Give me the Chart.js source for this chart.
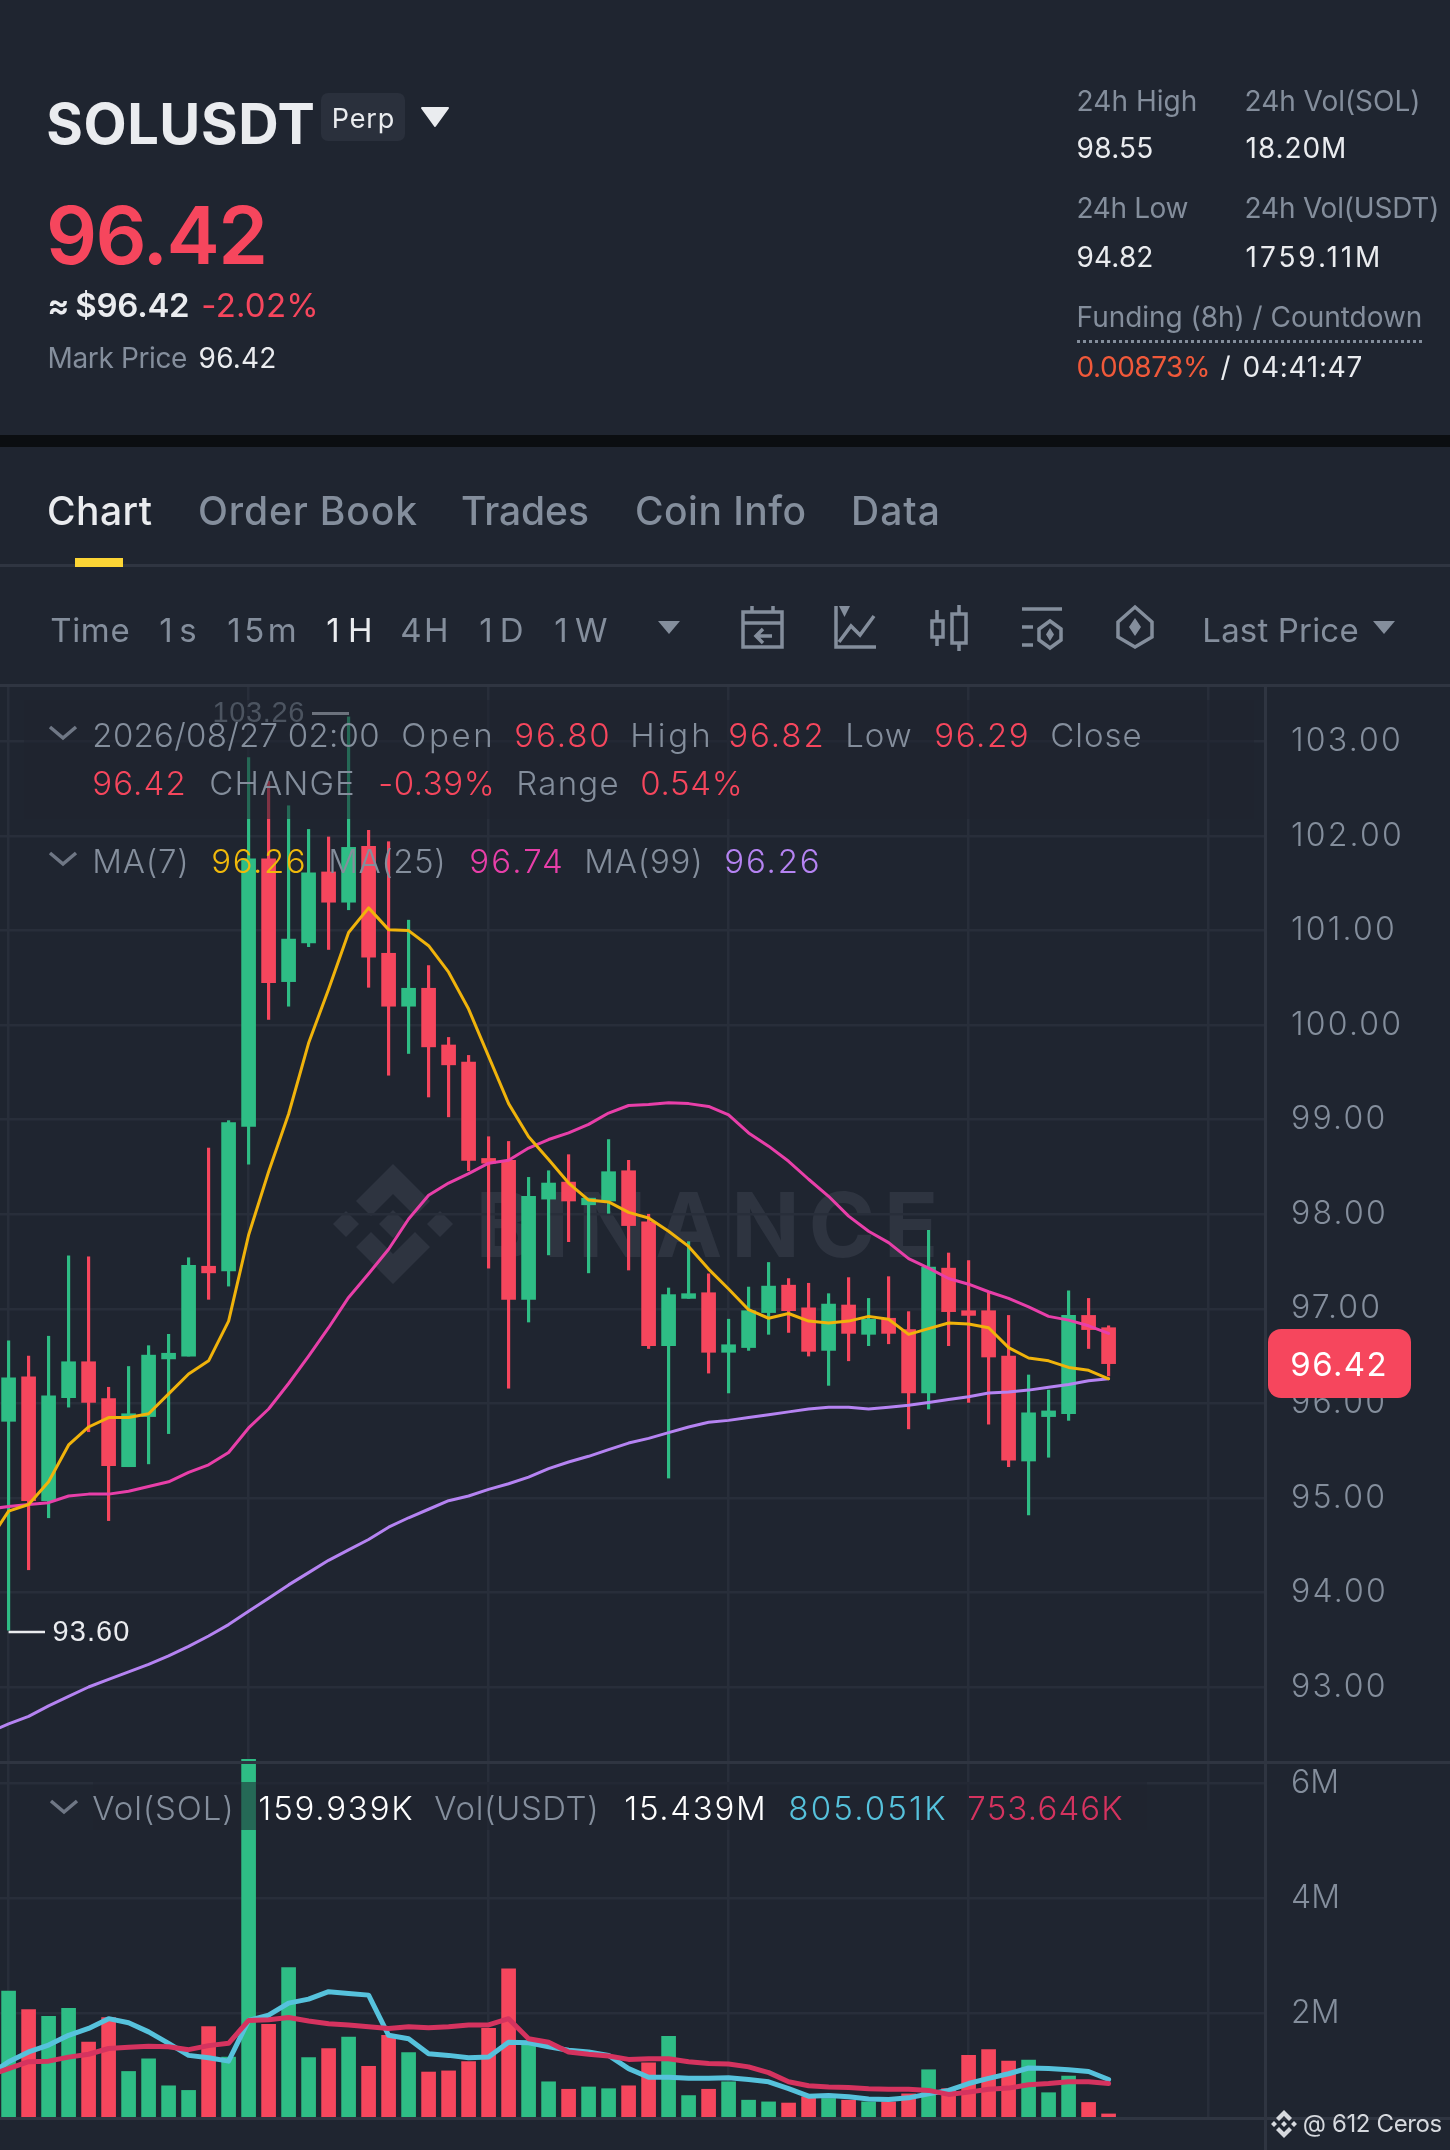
<!DOCTYPE html>
<html><head><meta charset="utf-8">
<style>
html,body{margin:0;padding:0;background:#1f2530;}
#page{position:relative;width:1450px;height:2150px;overflow:hidden;background:#1f2530;font-family:Inter,"Open Sans",sans-serif;}
.abs{position:absolute;}
.t{position:absolute;white-space:pre;line-height:normal;}
canvas{position:absolute;left:0;}
</style>
<script src="https://cdn.jsdelivr.net/npm/chart.js@4"></script>
</head><body>
<div id="page">
  <div class="abs" style="left:0;top:435px;width:1450px;height:12px;background:#0b0e11"></div>
  <div class="abs" style="left:0;top:564px;width:1450px;height:3px;background:#2f3541"></div>
  <div class="abs" style="left:75px;top:558px;width:48px;height:9px;background:#fcd535"></div>
  <div class="abs" style="left:0;top:684px;width:1450px;height:3px;background:#2f3541"></div>
  <div class="abs" style="left:321px;top:93px;width:84px;height:48px;border-radius:7px;background:#2a303c"></div>
  <div class="abs" style="left:1077px;top:340px;width:345px;border-top:3px dotted #848e9c"></div>

  <!-- watermark, under the marks -->
  <svg class="abs" style="left:330px;top:1160px" width="130" height="128" viewBox="0 0 130 128" fill="#2e3440">
    <path d="M63 4 L100 41 L85 56 L63 34 L41 56 L26 41Z"/>
    <path d="M63 124 L26 87 L41 72 L63 94 L85 72 L100 87Z"/>
    <path d="M16 51 L29 64 L16 77 L3 64Z"/>
    <path d="M110 51 L123 64 L110 77 L97 64Z"/>
    <path d="M63 50 L77 64 L63 78 L49 64Z"/>
  </svg>
  <div id="wm" class="abs"></div>

  <canvas id="priceCanvas" style="top:687px" width="1450" height="1075"></canvas>
  <canvas id="volCanvas" style="top:1755px" width="1450" height="363"></canvas>

  <div id="under"></div>
  <div class="abs" style="left:24px;top:700px;width:1230px;height:119px;background:rgba(31,37,48,.55)"></div>
  <div class="abs" style="left:93px;top:1782px;width:1054px;height:48px;background:rgba(31,37,48,.55)"></div>

  <div class="abs" style="left:0;top:1761px;width:1450px;height:3px;background:#2f3541"></div>
  <div class="abs" style="left:0;top:2117px;width:1450px;height:3px;background:#2f3541"></div>
  <div class="abs" style="left:1264px;top:686px;width:3px;height:1464px;background:#2f3541"></div>

  <div class="abs" style="left:1268px;top:1329px;width:143px;height:69px;border-radius:13px;background:#f6465d"></div>

  <svg class="abs" style="left:0;top:0" width="1450" height="2150" fill="none">
    <!-- small triangles -->
    <path d="M422 108 H448 L435 126Z" fill="#eaecef" stroke="#eaecef" stroke-width="2" stroke-linejoin="round"/>
    <path d="M658 621 H680 L669 634Z" fill="#848e9c"/>
    <path d="M1373 621 H1395 L1384 634Z" fill="#848e9c"/>
    <!-- chevrons -->
    <path d="M50 727 L63 738 L76 727M50 853 L63 864 L76 853M51 1801 L64 1812 L77 1801" stroke="#6f7785" stroke-width="3.5"/>
    <!-- toolbar icons -->
    <g stroke="#848e9c" stroke-width="3.5">
      <rect x="743" y="612" width="39" height="35"/><path d="M743 623 H782 M752 606 V612 M773 606 V612 M772 636 H756 M763 629 L756 636 L763 643"/>
      <path d="M836 606 V647 H876 M839 642 L851 626 L860 635 L874 616"/>
      <path d="M839 606 L850 606 L844.500 617Z" fill="#848e9c" stroke="none"/>
      <rect x="932" y="621" width="11" height="16"/><rect x="952" y="614" width="14" height="29"/><path d="M937 610 V621 M937 637 V646 M959 605 V614 M959 643 V651"/>
      <path d="M1022 609 H1062 M1022 627 H1033 M1022 645 H1033"/>
      <path d="M1050 621 L1061 629 V640 L1050 648 L1039 640 V629Z"/>
      <path d="M1135 607 L1152 622 V637 L1135 647 L1118 637 V622Z" transform="translate(0,0)"/>
    </g>
    <path d="M1050 628 L1054 634.500 L1050 641 L1046 634.500Z M1135 618 L1141 627 L1135 636 L1129 627Z" fill="#848e9c"/>
    <!-- extreme markers -->
    <path d="M312 713.500 H349" stroke="#6c727d" stroke-width="3"/>
    <path d="M8.600 1632 H45" stroke="#eaecef" stroke-width="2.500"/>
    <!-- corner logo -->
    <g fill="#d6d9de">
      <path d="M1284 2110 L1292 2118 L1289 2121 L1284 2116 L1279 2121 L1276 2118Z"/>
      <path d="M1284 2138 L1292 2130 L1289 2127 L1284 2132 L1279 2127 L1276 2130Z"/>
      <path d="M1274 2121 L1277 2124 L1274 2127 L1271 2124Z M1294 2121 L1297 2124 L1294 2127 L1291 2124Z M1284 2121 L1287 2124 L1284 2127 L1281 2124Z"/>
    </g>
  </svg>
  <div id="texts"></div>
</div>
<script>
/* ---------- chart values ---------- */
const opens =[95.81,96.28,94.97,96.06,96.44,96.05,95.33,95.86,96.47,96.50,97.45,97.40,98.93,101.76,100.46,100.87,101.62,101.30,101.89,100.76,100.20,100.39,99.79,99.61,98.59,98.57,97.10,98.16,98.34,98.10,98.14,98.46,97.92,96.61,97.11,97.17,96.54,96.59,96.96,97.25,97.01,96.56,97.04,96.73,96.90,96.78,96.11,97.43,96.98,96.98,96.50,95.39,95.86,95.89,96.93,96.80];
const closes=[96.27,94.97,96.08,96.44,96.01,95.34,95.89,96.51,96.53,97.46,97.38,98.97,101.76,100.45,100.91,101.61,101.30,101.88,100.72,100.20,100.39,99.77,99.58,98.57,98.54,97.10,98.19,98.33,98.14,98.17,98.45,97.88,96.61,97.15,97.16,96.54,96.62,96.98,97.24,96.98,96.55,97.05,96.74,96.89,96.74,96.11,97.44,96.97,96.93,96.49,95.40,95.90,95.92,96.93,96.78,96.42];
const highs =[96.66,96.50,96.71,97.56,97.55,96.17,96.39,96.61,96.73,97.54,98.70,98.99,102.83,102.58,102.32,102.07,101.99,103.26,102.06,101.94,101.11,100.63,99.87,99.68,98.82,98.77,98.39,98.46,98.63,98.17,98.79,98.57,98.00,97.22,97.71,97.37,96.89,97.23,97.49,97.32,97.27,97.16,97.33,97.11,97.34,96.97,97.83,97.59,97.51,97.17,96.93,96.30,96.14,97.19,97.11,96.82];
const lows  =[93.60,94.24,94.79,95.96,95.70,94.76,95.33,95.36,95.68,96.50,97.10,97.24,98.53,100.06,100.20,100.83,100.80,101.22,100.40,99.47,99.70,99.24,99.03,98.46,97.43,96.16,96.86,97.57,97.71,97.38,98.01,97.41,96.58,95.21,97.11,96.32,96.11,96.56,96.73,96.75,96.50,96.19,96.45,96.61,96.63,95.73,95.94,96.61,96.01,95.78,95.33,94.82,95.43,95.82,96.58,96.29];
// moving averages start one candle before the left edge of the view
const ma7  =[94.54,94.86,94.93,95.17,95.56,95.75,95.85,95.85,95.89,96.10,96.31,96.45,96.87,97.78,98.45,99.06,99.81,100.38,100.98,101.24,101.01,101.00,100.84,100.56,100.17,99.67,99.17,98.82,98.58,98.33,98.15,98.13,98.02,97.96,97.82,97.66,97.42,97.21,96.99,96.90,96.95,96.87,96.85,96.87,96.92,96.89,96.73,96.79,96.85,96.84,96.80,96.59,96.48,96.45,96.38,96.35,96.26];
const ma25 =[94.88,94.91,94.93,94.95,95.02,95.04,95.04,95.07,95.12,95.17,95.27,95.35,95.48,95.74,95.94,96.21,96.50,96.80,97.12,97.37,97.63,97.95,98.20,98.33,98.43,98.54,98.57,98.70,98.79,98.86,98.95,99.07,99.15,99.16,99.18,99.17,99.14,99.05,98.86,98.72,98.56,98.37,98.19,97.98,97.82,97.70,97.53,97.43,97.32,97.26,97.18,97.11,97.02,96.92,96.88,96.82,96.74];
const ma99 =[92.52,92.61,92.69,92.80,92.90,93.00,93.08,93.16,93.24,93.33,93.43,93.54,93.66,93.80,93.94,94.08,94.21,94.34,94.45,94.56,94.69,94.79,94.88,94.97,95.02,95.09,95.15,95.22,95.31,95.38,95.44,95.51,95.58,95.63,95.69,95.75,95.80,95.82,95.85,95.88,95.91,95.94,95.96,95.96,95.94,95.96,95.98,96.01,96.04,96.07,96.11,96.12,96.14,96.17,96.20,96.24,96.26];
const volumes=[2.38,2.06,1.94,2.08,1.49,1.92,0.98,1.20,0.73,0.65,1.76,1.23,6.42,1.80,2.79,1.22,1.38,1.58,1.07,1.61,1.31,0.97,0.99,1.15,1.73,2.77,1.44,0.80,0.67,0.71,0.68,0.73,1.13,1.59,0.56,0.67,0.80,0.48,0.45,0.43,0.54,0.51,0.48,0.45,0.45,0.59,1.01,0.68,1.26,1.36,1.16,1.18,0.61,0.90,0.44,0.24];
const volMaFast=[0.91,1.15,1.32,1.44,1.61,1.73,1.90,1.83,1.67,1.47,1.26,1.22,1.16,1.87,1.96,2.17,2.24,2.37,2.34,2.31,1.61,1.55,1.29,1.26,1.22,1.23,1.49,1.48,1.41,1.35,1.32,1.26,1.03,0.88,0.88,0.86,0.86,0.87,0.84,0.80,0.68,0.55,0.56,0.54,0.50,0.49,0.52,0.59,0.65,0.77,0.86,0.94,1.04,1.03,1.01,0.98,0.84];
const volMaSlow=[0.91,1.03,1.15,1.16,1.23,1.28,1.38,1.40,1.42,1.41,1.36,1.43,1.47,1.87,1.88,1.92,1.86,1.81,1.79,1.76,1.73,1.76,1.74,1.76,1.79,1.79,1.90,1.55,1.49,1.32,1.28,1.25,1.19,1.20,1.20,1.15,1.12,1.11,1.06,0.96,0.80,0.73,0.71,0.70,0.68,0.67,0.67,0.65,0.58,0.62,0.67,0.69,0.75,0.77,0.80,0.80,0.77];
const priceTicks=[93,94,95,96,97,98,99,100,101,102,103];
const volTicks=[2,4,6];
const timeGrid=[0,12,24,36,48,60];

const GREEN='#2ebd85',RED='#f6465d',GRID='#282e3a',GREY='#848e9c';
const FONT='Inter';
const barColors=opens.map((o,i)=>closes[i]>=o?GREEN:RED);
const noPad=s=>{s.paddingTop=0;s.paddingBottom=0;s.paddingLeft=0;s.paddingRight=0;};
const xView={type:'linear',min:-0.43,max:62.82,offset:false,
  afterBuildTicks:s=>{s.ticks=timeGrid.map(value=>({value}));},
  afterFit:s=>{s.height=0;noPad(s);},
  grid:{color:GRID,lineWidth:2.5,drawTicks:false,offset:false},border:{display:false},ticks:{display:false}};
const yAxis=(min,max,tickVals,cb,lineH)=>({type:'linear',position:'right',min,max,
  afterBuildTicks:s=>{s.ticks=tickVals.map(value=>({value}));},
  afterFit:s=>{s.width=185;noPad(s);},
  grid:{color:GRID,lineWidth:2.5,drawTicks:false},border:{display:false},
  ticks:{color:GREY,padding:26,autoSkip:false,callback:cb,font:{family:FONT,size:32,weight:'300',lineHeight:lineH}}});
const line=(vals,color,width,order)=>({type:'line',data:vals.map((y,i)=>({x:i-1,y})),borderColor:color,borderWidth:width,pointRadius:0,tension:0,order,borderJoinStyle:'round',borderCapStyle:'round'});
const spacedTicks={id:'spacedTicks',beforeDraw(c){c.ctx.letterSpacing='2.2px';},beforeDatasetsDraw(c){c.ctx.letterSpacing='0px';},afterDatasetsDraw(c){c.ctx.letterSpacing='2.2px';}};
const common={responsive:false,animation:false,devicePixelRatio:1,
  layout:{padding:0},plugins:{legend:{display:false},tooltip:{enabled:false}}};

new Chart(document.getElementById('priceCanvas'),{
  type:'bar',
  plugins:[spacedTicks],
  data:{datasets:[
    {label:'Wick',data:highs.map((h,i)=>({x:i,y:[lows[i],h]})),backgroundColor:barColors,barThickness:2.5,grouped:false,order:3},
    {label:'Body',data:opens.map((o,i)=>({x:i,y:[o,closes[i]]})),backgroundColor:barColors,barThickness:14,grouped:false,order:2},
    Object.assign(line(ma99,'#b583f2',3,1),{label:'MA(99)'}),
    Object.assign(line(ma25,'#e83fa9',3,0),{label:'MA(25)'}),
    Object.assign(line(ma7,'#f0b30b',3,-1),{label:'MA(7)'})
  ]},
  options:Object.assign({},common,{scales:{
    x:xView,
    y:yAxis(92.207,103.576,priceTicks,v=>v.toFixed(2),'32px')
  }})
});
new Chart(document.getElementById('volCanvas'),{
  type:'bar',
  data:{datasets:[
    {label:'Vol',data:volumes.map((v,i)=>({x:i,y:v})),backgroundColor:barColors,barThickness:14,grouped:false,order:2},
    Object.assign(line(volMaFast,'#56c2dc',5,1),{label:'MA fast'}),
    Object.assign(line(volMaSlow,'#d5335f',5,0),{label:'MA slow'})
  ]},
  options:Object.assign({},common,{scales:{
    x:xView,
    y:yAxis(0.1692,6.4935,volTicks,v=>v+'M','32px')
  }})
});

/* ---------- page text: [text, left, right, baseline, size, colour, weight] ---------- */
const W='#eaecef',PK='#e83fa9',OR='#f0b90b',PU='#b583f2',BL='#56c2dc',RD='#d5335f';
const textRows=[
 ['SOLUSDT',49,312,144,56,W,700],['Perp',333,393,128,27,W,400],
 ['96.42',50,264,264,80,RED,600],['≈',49,65,317,33,W,600],['$96.42',77,188,317,33,W,600],['-2.02%',203,317,317,33,RED,400],
 ['Mark Price',49,186,368,28,GREY,400],['96.42',200,275,368,28,W,400],
 ['24h High',1078,1196,111,28,GREY,400],['24h Vol(SOL)',1246,1419,111,28,GREY,400],
 ['98.55',1078,1152,158,28,W,400],['18.20M',1247,1345,158,28,W,400],
 ['24h Low',1078,1187,218,28,GREY,400],['24h Vol(USDT)',1246,1438,218,28,GREY,400],
 ['94.82',1078,1152,267,28,W,400],['1759.11M',1247,1379,267,28,W,400],
 ['Funding (8h) / Countdown',1078,1421,327,28,GREY,400],
 ['0.00873%',1078,1209,377,28,'#f0593a',400],['/',1222,1229,377,28,W,400],['04:41:47',1244,1361,377,28,W,400],
 ['Chart',49,150,525,39,W,500],['Order Book',200,415,525,39,GREY,500],['Trades',463,587,525,39,GREY,500],['Coin Info',637,804,525,39,GREY,500],['Data',853,938,525,39,GREY,500],
 ['Time',52,128,642,33,GREY,400],['1s',161,195,642,33,GREY,400],['15m',229,295,642,33,GREY,400],['1H',328,371,642,33,W,400],['4H',402,447,642,33,GREY,400],['1D',481,522,642,33,GREY,400],['1W',556,606,642,33,GREY,400],['Last Price',1204,1357,642,33,GREY,400],
 ['2026/08/27 02:00',94,378,747,33,GREY,300],['Open',403,491,747,33,GREY,300],['96.80',516,608,747,33,RED,300],['High',632,709,747,33,GREY,300],['96.82',730,822,747,33,RED,300],['Low',847,910,747,33,GREY,300],['96.29',936,1027,747,33,RED,300],['Close',1052,1140,747,33,GREY,300],
 ['96.42',94,184,795,33,RED,300],['CHANGE',211,353,795,33,GREY,300],['-0.39%',380,493,795,33,RED,300],['Range',518,617,795,33,GREY,300],['0.54%',642,741,795,33,RED,300],
 ['MA(7)',94,187,873,33,GREY,300],['96.26',213,304,873,33,OR,300],['MA(25)',330,444,873,33,GREY,300],['96.74',471,561,873,33,PK,300],['MA(99)',586,701,873,33,GREY,300],['96.26',726,818,873,33,PU,300],
 ['Vol(SOL)',94,232,1820,33,GREY,300],['159.939K',260,411,1820,33,'#ffffff',300],['Vol(USDT)',436,597,1820,33,GREY,300],['15.439M',626,764,1820,33,'#ffffff',300],['805.051K',790,944,1820,33,BL,300],['753.646K',969,1121,1820,33,RD,300],
 ['96.42',1292,1385,1376,33,'#ffffff',400],
 ['@ 612 Ceros',1304,1441,2132,24,'#d6d9de',400]
];
function place(parent,row,family){
  const [txt,x1,x2,base,size,color,weight]=row;
  const bearing=0.05*size;
  const d=document.createElement('div');d.className='t';d.textContent=txt;
  d.style.cssText+=`left:${x1-bearing}px;top:0;font-size:${size}px;color:${color};font-weight:${weight};font-family:${family||'Inter,sans-serif'}`;
  const m=document.createElement('span');m.style.cssText='display:inline-block;width:0;height:0';d.appendChild(m);
  parent.appendChild(d);
  const b=m.getBoundingClientRect().bottom-d.getBoundingClientRect().top;
  d.style.top=(base-b)+'px';
  if(x2){const w=d.getBoundingClientRect().width;d.style.letterSpacing=((x2-x1+2*bearing-w)/Math.max(1,txt.length-1))+'px';}
}
const ready=()=>{
  const tx=document.getElementById('texts');textRows.forEach(r=>place(tx,r));
  place(document.getElementById('under'),['103.26',214,303,722,29,'#848e9c',400],'"Liberation Sans"');
  place(document.getElementById('under'),['93.60',54,128,1641,29,'#eaecef',400],'"Liberation Sans"');
  place(document.getElementById('wm'),['BINANCE',480,934,1257,90,'#2e3440',700]);
};
ready();
</script>
</body></html>
